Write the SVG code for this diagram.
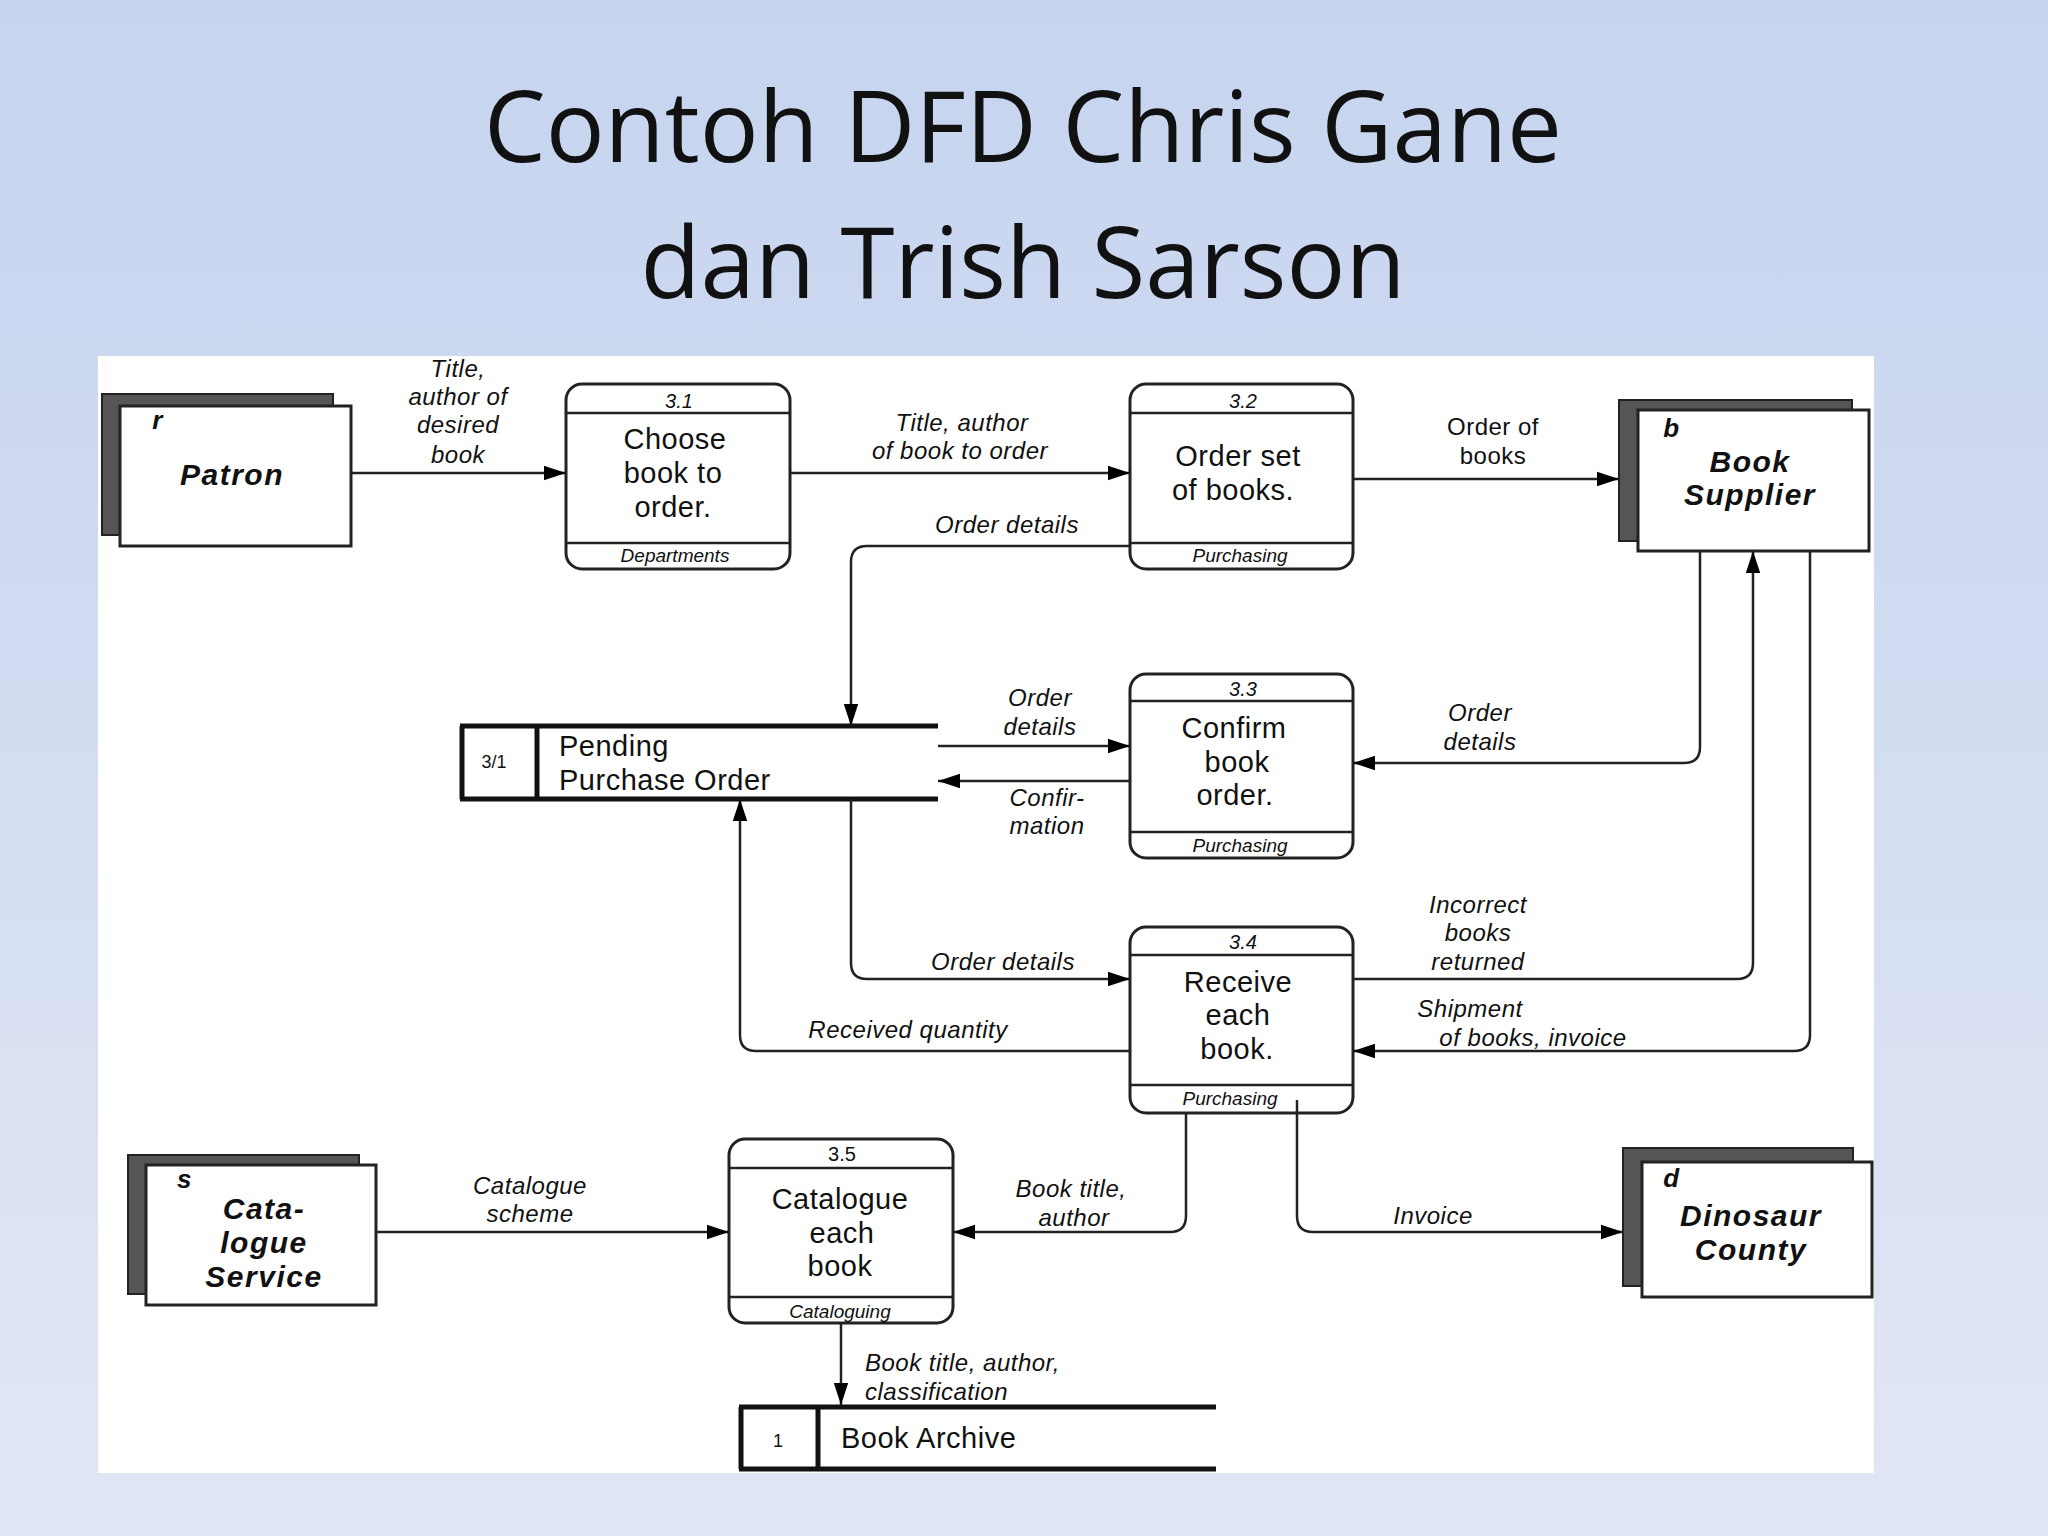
<svg xmlns="http://www.w3.org/2000/svg" width="2048" height="1536" viewBox="0 0 2048 1536">
<defs>
<linearGradient id="bg" x1="0" y1="0" x2="0" y2="1">
<stop offset="0" stop-color="#c6d4ef"/><stop offset="1" stop-color="#e1e6f4"/>
</linearGradient>
<marker id="ah" viewBox="0 0 10 10" refX="10" refY="5" markerWidth="22" markerHeight="18" markerUnits="userSpaceOnUse" orient="auto" preserveAspectRatio="none">
<path d="M0,1 L10,5 L0,9 z" fill="#000"/>
</marker>
<style>
.t{font-family:"Liberation Sans",Arial,sans-serif;text-anchor:middle;dominant-baseline:central;fill:#111}
.lb{font-size:24px;font-style:italic;letter-spacing:0.5px}
.pn{font-size:20px;font-style:italic}
.pb{font-size:29px;letter-spacing:0.5px}
.ft{font-size:19px;font-style:italic}
.en{font-size:30px;font-weight:bold;font-style:italic;letter-spacing:1.5px}
.box{fill:#fff;stroke:#222;stroke-width:3}
.sh{fill:#555;stroke:#222;stroke-width:2}
.ln{fill:none;stroke:#222;stroke-width:2.5}
.c{fill:none;stroke:#222;stroke-width:2.5;marker-end:url(#ah)}
.st{fill:none;stroke:#111;stroke-width:5}
</style>
</defs>
<rect width="2048" height="1536" fill="url(#bg)"/>
<text x="1023" y="124" class="t" style="font-family:'Open Sans',sans-serif;font-size:98px">Contoh DFD Chris Gane</text>
<text x="1023" y="260" class="t" style="font-family:'Open Sans',sans-serif;font-size:98px">dan Trish Sarson</text>
<rect x="98" y="356" width="1776" height="1117" fill="#fff"/>

<g id="patron">
<rect x="102" y="394" width="231" height="141" class="sh"/>
<rect x="120" y="406" width="231" height="140" class="box"/>
<text x="158" y="420" class="t en" style="font-size:26px">r</text>
<text x="232" y="474" class="t en">Patron</text>
</g>
<g id="p31">
<rect x="566" y="384" width="224" height="185" rx="16" class="box"/>
<line x1="566" y1="413" x2="790" y2="413" class="ln"/><line x1="566" y1="543" x2="790" y2="543" class="ln"/>
<text x="679" y="401" class="t pn">3.1</text>
<text x="675" y="439" class="t pb">Choose</text><text x="673" y="473" class="t pb">book to</text><text x="673" y="507" class="t pb">order.</text>
<text x="675" y="555" class="t ft">Departments</text>
</g>
<g id="p32">
<rect x="1130" y="384" width="223" height="185" rx="16" class="box"/>
<line x1="1130" y1="413" x2="1353" y2="413" class="ln"/><line x1="1130" y1="543" x2="1353" y2="543" class="ln"/>
<text x="1243" y="401" class="t pn">3.2</text>
<text x="1238" y="456" class="t pb">Order set</text><text x="1233" y="490" class="t pb">of books.</text>
<text x="1240" y="555" class="t ft">Purchasing</text>
</g>
<g id="supplier">
<rect x="1619" y="400" width="233" height="141" class="sh"/>
<rect x="1638" y="410" width="231" height="141" class="box"/>
<text x="1672" y="428" class="t en" style="font-size:26px">b</text>
<text x="1750" y="461" class="t en">Book</text><text x="1750" y="494" class="t en">Supplier</text>
</g>
<g id="p33">
<rect x="1130" y="674" width="223" height="184" rx="16" class="box"/>
<line x1="1130" y1="701" x2="1353" y2="701" class="ln"/><line x1="1130" y1="832" x2="1353" y2="832" class="ln"/>
<text x="1243" y="689" class="t pn">3.3</text>
<text x="1234" y="728" class="t pb">Confirm</text><text x="1237" y="762" class="t pb">book</text><text x="1235" y="795" class="t pb">order.</text>
<text x="1240" y="845" class="t ft">Purchasing</text>
</g>
<g id="p34">
<rect x="1130" y="927" width="223" height="186" rx="16" class="box"/>
<line x1="1130" y1="955" x2="1353" y2="955" class="ln"/><line x1="1130" y1="1085" x2="1353" y2="1085" class="ln"/>
<text x="1243" y="942" class="t pn">3.4</text>
<text x="1238" y="982" class="t pb">Receive</text><text x="1238" y="1015" class="t pb">each</text><text x="1237" y="1049" class="t pb">book.</text>
<text x="1230" y="1098" class="t ft">Purchasing</text>
</g>
<g id="p35">
<rect x="729" y="1139" width="224" height="184" rx="16" class="box"/>
<line x1="729" y1="1168" x2="953" y2="1168" class="ln"/><line x1="729" y1="1297" x2="953" y2="1297" class="ln"/>
<text x="842" y="1154" class="t pn" style="font-style:normal">3.5</text>
<text x="840" y="1199" class="t pb">Catalogue</text><text x="842" y="1233" class="t pb">each</text><text x="840" y="1266" class="t pb">book</text>
<text x="840" y="1311" class="t ft">Cataloguing</text>
</g>
<g id="pending">
<line x1="460" y1="726" x2="938" y2="726" class="st"/><line x1="460" y1="799" x2="938" y2="799" class="st"/>
<line x1="462" y1="726" x2="462" y2="799" class="st"/><line x1="537" y1="726" x2="537" y2="799" class="st"/>
<text x="494" y="762" class="t" style="font-size:18px">3/1</text>
<text x="559" y="746" class="t pb" style="text-anchor:start">Pending</text>
<text x="559" y="780" class="t pb" style="text-anchor:start">Purchase Order</text>
</g>
<g id="archive">
<line x1="739" y1="1407" x2="1216" y2="1407" class="st"/><line x1="739" y1="1469" x2="1216" y2="1469" class="st"/>
<line x1="741" y1="1407" x2="741" y2="1469" class="st"/><line x1="818" y1="1407" x2="818" y2="1469" class="st"/>
<text x="778" y="1441" class="t" style="font-size:18px">1</text>
<text x="841" y="1438" class="t pb" style="text-anchor:start">Book Archive</text>
</g>
<g id="catalogue-service">
<rect x="128" y="1155" width="231" height="139" class="sh"/>
<rect x="146" y="1165" width="230" height="140" class="box"/>
<text x="185" y="1179" class="t en" style="font-size:26px">s</text>
<text x="264" y="1208" class="t en">Cata-</text><text x="264" y="1242" class="t en">logue</text><text x="264" y="1276" class="t en">Service</text>
</g>
<g id="dinosaur">
<rect x="1623" y="1148" width="230" height="138" class="sh"/>
<rect x="1642" y="1162" width="230" height="135" class="box"/>
<text x="1672" y="1178" class="t en" style="font-size:26px">d</text>
<text x="1751" y="1215" class="t en">Dinosaur</text><text x="1751" y="1249" class="t en">County</text>
</g>

<g id="connectors">
<path d="M351,473 H566" class="c"/>
<path d="M790,473 H1130" class="c"/>
<path d="M1353,479 H1619" class="c"/>
<path d="M1130,546 H867 Q851,546 851,562 V726" class="c"/>
<path d="M938,746 H1130" class="c"/>
<path d="M1130,781 H938" class="c"/>
<path d="M1700,551 V747 Q1700,763 1684,763 H1353" class="c"/>
<path d="M851,799 V963 Q851,979 867,979 H1130" class="c"/>
<path d="M1130,1051 H756 Q740,1051 740,1035 V799" class="c"/>
<path d="M1353,979 H1737 Q1753,979 1753,963 V551" class="c"/>
<path d="M1810,551 V1035 Q1810,1051 1794,1051 H1353" class="c"/>
<path d="M1186,1113 V1216 Q1186,1232 1170,1232 H953" class="c"/>
<path d="M1297,1100 V1216 Q1297,1232 1313,1232 H1623" class="c"/>
<path d="M376,1232 H729" class="c"/>
<path d="M841,1323 V1405" class="c"/>
</g>

<g id="labels">
<text x="458" y="368" class="t lb">Title,</text><text x="458" y="396" class="t lb">author of</text><text x="458" y="424" class="t lb">desired</text><text x="458" y="454" class="t lb">book</text>
<text x="962" y="422" class="t lb">Title, author</text><text x="960" y="450" class="t lb">of book to order</text>
<text x="1493" y="426" class="t lb" style="font-style:normal">Order of</text><text x="1493" y="455" class="t lb" style="font-style:normal">books</text>
<text x="1007" y="524" class="t lb">Order details</text>
<text x="1040" y="697" class="t lb">Order</text><text x="1040" y="726" class="t lb">details</text>
<text x="1047" y="797" class="t lb">Confir-</text><text x="1047" y="825" class="t lb">mation</text>
<text x="1480" y="712" class="t lb">Order</text><text x="1480" y="741" class="t lb">details</text>
<text x="1478" y="904" class="t lb">Incorrect</text><text x="1478" y="932" class="t lb">books</text><text x="1478" y="961" class="t lb">returned</text>
<text x="1470" y="1008" class="t lb">Shipment</text><text x="1533" y="1037" class="t lb">of books, invoice</text>
<text x="1003" y="961" class="t lb">Order details</text>
<text x="908" y="1029" class="t lb">Received quantity</text>
<text x="1071" y="1188" class="t lb">Book title,</text><text x="1074" y="1217" class="t lb">author</text>
<text x="1433" y="1215" class="t lb">Invoice</text>
<text x="530" y="1185" class="t lb">Catalogue</text><text x="530" y="1213" class="t lb">scheme</text>
<text x="865" y="1362" class="t lb" style="text-anchor:start">Book title, author,</text><text x="865" y="1391" class="t lb" style="text-anchor:start">classification</text>
</g>
</svg>
